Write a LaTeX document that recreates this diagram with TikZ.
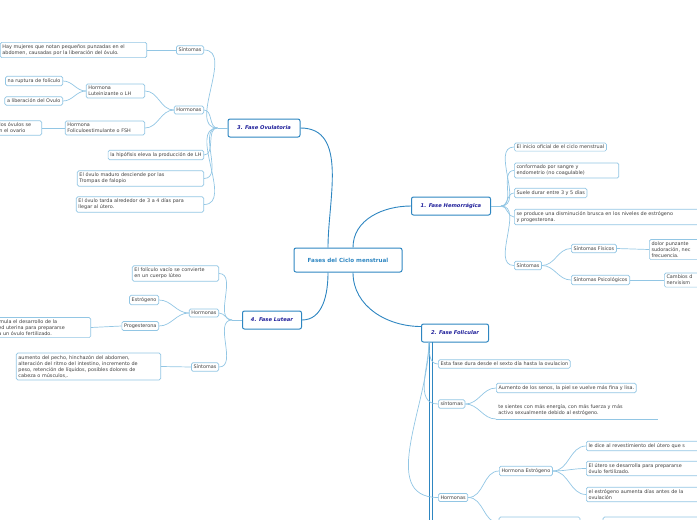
\documentclass[tikz,border=0pt]{standalone}
\usepackage{fontspec}
\setmainfont{DejaVu Sans}
\begin{document}
\begin{tikzpicture}[x=1pt,y=-1pt,
 every node/.style={font=\fontsize{4.9}{6}\selectfont, text=black!75},
 leaf/.style={draw=lb, rounded corners=1.5pt, fill=white, inner sep=2.2pt, line width=0.7pt, align=left},
 phase/.style={draw=db, rounded corners=2pt, fill=white, line width=1pt, minimum height=18pt, font=\fontsize{5.2}{6}\selectfont\bfseries\itshape, text=phc},
 lk/.style={draw=lb, line width=0.7pt},
 mk/.style={draw=db, line width=0.9pt}]
\definecolor{lb}{HTML}{92C6E4}
\definecolor{db}{HTML}{2E86C1}
\definecolor{phc}{HTML}{1F1F9A}
\useasboundingbox (0,0) rectangle (697,520);
\clip (0,0) rectangle (697,520);
\tikzset{tw/.style={text width=#1, align=left}}
% central
\node[draw=db, line width=1pt, rounded corners=2pt, minimum width=108pt, minimum height=24pt, font=\fontsize{5.6}{6}\selectfont\bfseries, text=db] (c) at (348,260) {Fases del Ciclo menstrual};
% phases
\node[phase, minimum width=72pt] (p3) at (264,128) {3. Fase Ovulatoria};
\node[phase, minimum width=79pt] (p1) at (451,206) {1. Fase Hemorrágica};
\node[phase, minimum width=59pt] (p4) at (272,320) {4. Fase Lutear};
\node[phase, minimum width=67pt] (p2) at (455,333) {2. Fase Folicular};
\draw[mk] (c.north) ++(-20,0) to[out=90,in=0] (p3.east);
\draw[mk] (c.north) ++(5,0) to[out=90,in=180] (p1.west);
\draw[mk] (c.south) ++(-20,0) to[out=-90,in=0] (p4.east);
\draw[mk] (c.south) ++(5,0) to[out=-90,in=180] ([yshift=-3pt]p2.north west);
% phase 3
\node[leaf,anchor=east] (s3) at (204,50) {Síntomas};
\node[leaf,anchor=east,tw=142pt] (s3a) at (147,50) {Hay mujeres que notan pequeños punzadas en el\\abdomen, causadas por la liberación del óvulo.};
\node[leaf,anchor=east,tw=54pt] (lh) at (145,91) {Hormona\\Luteinizante o LH};
\node[leaf,anchor=east] (lh1) at (63,81) {na ruptura de folículo};
\node[leaf,anchor=east] (lh2) at (63,101) {a liberación del Ovulo};
\node[leaf,anchor=east] (h3) at (204,110) {Hormonas};
\node[leaf,anchor=east,tw=75pt] (fsh) at (145,128) {Hormona\\Foliculoestimulante o FSH};
\node[leaf,anchor=east,tw=40pt] (fsh1) at (42,128) {los óvulos se\\n el ovario};
\node[leaf,anchor=east] (o1) at (204,155) {la hipófisis eleva la producción de LH};
\node[leaf,anchor=east,tw=122pt] (o2) at (204,178.5) {El óvulo maduro desciende por las\\Trompas de falopio};
\node[leaf,anchor=east,tw=123pt] (o3) at (204,204.5) {El óvulo tarda alrededor de 3 a 4 días para\\llegar al útero.};
\foreach \n in {s3,h3,o1,o2,o3} \draw[lk] ([xshift=-10pt]p3.west) to[out=180,in=0] (\n.east);
\draw[lk] ([xshift=-10pt]p3.west) -- (p3.west);
\draw[lk] (s3.west) -- (s3a.east);
\foreach \n in {lh,fsh} \draw[lk] (h3.west) to[out=180,in=0] (\n.east);
\foreach \n in {lh1,lh2} \draw[lk] (lh.west) to[out=180,in=0] (\n.east);
\draw[lk] (fsh.west) -- (fsh1.east);
% phase 1
\node[leaf,anchor=west] (a1) at (514,147) {El inicio oficial de el ciclo menstrual};
\node[leaf,anchor=west,tw=100pt] (a2) at (514,170.5) {conformado por sangre y\\endometrio (no coagulable)};
\node[leaf,anchor=west] (a3) at (514,193) {Suele durar entre 3 y 5 días};
\node[leaf,anchor=west,tw=185pt] (a4) at (514,217) {se produce una disminución brusca en los niveles de estrógeno\\y progesterona.};
\node[leaf,anchor=west] (a5) at (514,265.5) {Síntomas};
\node[leaf,anchor=west] (a51) at (571,248.5) {Síntomas Físicos};
\node[leaf,anchor=west,tw=60pt] (a511) at (649,249.5) {dolor punzante\\sudoración, nec\\frecuencia.};
\node[leaf,anchor=west] (a52) at (571,280) {Síntomas Psicológicos};
\node[leaf,anchor=west,tw=45pt] (a521) at (664,280) {Cambios d\\nervisism};
\foreach \n in {a1,a2,a3,a4,a5} \draw[lk] ([xshift=10pt]p1.east) to[out=0,in=180] (\n.west);
\draw[lk] (p1.east) -- ([xshift=10pt]p1.east);
\foreach \n in {a51,a52} \draw[lk] (a5.east) to[out=0,in=180] (\n.west);
\draw[lk] (a51.east) -- (a511.west);
\draw[lk] (a52.east) -- (a521.west);
% phase 4
\node[leaf,anchor=east,tw=82pt] (l1) at (219,273.5) {El folículo vacío se convierte\\en un cuerpo lúteo};
\node[leaf,anchor=east] (l2) at (219,313) {Hormonas};
\node[leaf,anchor=east] (l21) at (159,300) {Estrógeno};
\node[leaf,anchor=east] (l22) at (159,326) {Progesterona};
\node[leaf,anchor=east,tw=95pt] (l221) at (91,327.5) {stimula el desarrollo de la\\ared uterina para prepararse\\ara un óvulo fertilizado.};
\node[leaf,anchor=east] (l3) at (219,367) {Síntomas};
\node[leaf,anchor=east,tw=140pt] (l31) at (161,366.5) {aumento del pecho, hinchazón del abdomen,\\alteración del ritmo del intestino, incremento de\\peso, retención de líquidos, posibles dolores de\\cabeza o músculos,.};
\foreach \n in {l1,l2,l3} \draw[lk] ([xshift=-10pt]p4.west) to[out=180,in=0] (\n.east);
\draw[lk] ([xshift=-10pt]p4.west) -- (p4.west);
\foreach \n in {l21,l22} \draw[lk] (l2.west) to[out=180,in=0] (\n.east);
\draw[lk] (l22.west) -- (l221.east);
\draw[lk] (l3.west) -- (l31.east);
% phase 2
\coordinate (t) at (429,342);
\draw[mk] (t) -- (429,530);
\draw[mk] (432,342) -- (432,530);
\node[leaf,anchor=west] (f1) at (438,364) {Esta fase dura desde el sexto día hasta la ovulacion};
\node[leaf,anchor=west] (f2) at (438,404) {síntomas};
\node[leaf,anchor=west] (f21) at (496,388) {Aumento de los senos, la piel se vuelve más fina y lisa.};
\node[anchor=west,tw=160pt,inner sep=2.2pt] (f22) at (496,410) {te sientes con más energía, con más fuerza y más\\activo sexualmente debido al estrógeno.};
\draw[lk] (496,419) -- (658,419);
\node[leaf,anchor=west] (f3) at (438,497.5) {Hormonas};
\node[leaf,anchor=west] (f31) at (499,471) {Hormona Estrógeno};
\node[leaf,anchor=west,tw=115pt] (f311) at (586,446) {le dice al revestimiento del útero que s};
\node[leaf,anchor=west,tw=115pt] (f312) at (586,468.5) {El útero se desarrolla para prepararse\\óvulo fertilizado.};
\node[leaf,anchor=west,tw=115pt] (f313) at (586,494.5) {el estrógeno aumenta días antes de la\\ovulación};
\draw[leaf] (499,517) rectangle (580,530);
\draw[leaf] (603,517) rectangle (700,530);
\foreach \n in {f1,f2,f3} \draw[lk] (t) to[out=-90,in=180] (\n.west);
\draw[lk] (f2.east) to[out=0,in=180] (f21.west);
\draw[lk] (f2.east) to[out=0,in=180] (496,419);
\draw[lk] (f3.east) to[out=0,in=180] (f31.west);
\draw[lk] (f3.east) to[out=0,in=180] (499,523);
\foreach \n in {f311,f312,f313} \draw[lk] (f31.east) to[out=0,in=180] (\n.west);
\draw[lk] (580,523) -- (603,523);
\end{tikzpicture}
\end{document}
